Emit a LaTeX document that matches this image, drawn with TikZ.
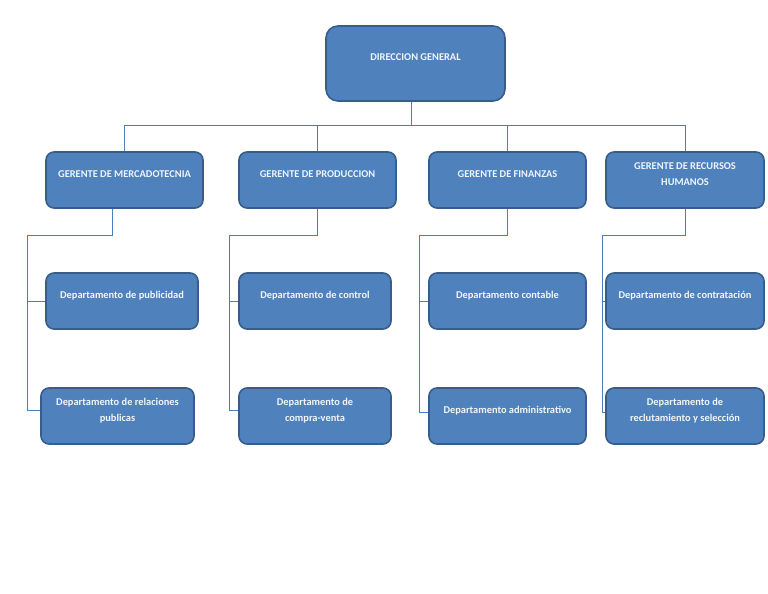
\documentclass[tikz,border=0pt]{standalone}
\usepackage{fontspec}
\setmainfont{Carlito}
\usepackage{tikz}
\usetikzlibrary{positioning,calc}
\definecolor{orgfill}{HTML}{4F81BD}
\definecolor{orgedge}{HTML}{385D8A}
\definecolor{orgline}{HTML}{4A7EBB}

\begin{document}
\begin{tikzpicture}[x=1pt, y=-1pt,
    orgbox/.style={rectangle, draw=orgedge, line width=1.6pt, fill=orgfill, rounded corners=8pt,
                 minimum height=56pt, align=center, text=white!92!orgfill, text depth=12pt,
                 font=\fontsize{10.4}{16}\selectfont\bfseries, inner sep=2pt},
    topbox/.style={orgbox, minimum width=179pt, minimum height=75pt, rounded corners=12pt},
    orgline/.style={draw=orgline, line width=0.8pt}
]
\useasboundingbox (0,0) rectangle (768,594);

\node[topbox] (dg) at (415.5,63.5) {DIRECCION GENERAL};

\node[orgbox, minimum width=157pt] (mkt) at (124.5,180) {GERENTE DE MERCADOTECNIA};
\node[orgbox, minimum width=157pt] (prod) at (317.5,180) {GERENTE DE PRODUCCION};
\node[orgbox, minimum width=157pt] (fin) at (507.5,180) {GERENTE DE FINANZAS};
\node[orgbox, minimum width=158pt] (rh) at (685,180) {GERENTE DE RECURSOS\\HUMANOS};

\node[orgbox, minimum width=152pt] (publ) at (122,301) {Departamento de publicidad};
\node[orgbox, minimum width=153pt] (relp) at (117.5,416) {Departamento de relaciones\\publicas};
\node[orgbox, minimum width=152pt] (ctrl) at (315,301) {Departamento de control};
\node[orgbox, minimum width=152pt] (cmpv) at (315,416) {Departamento de\\compra-venta};
\node[orgbox, minimum width=157pt] (cont) at (507.5,301) {Departamento contable};
\node[orgbox, minimum width=157pt] (admi) at (507.5,416) {Departamento administrativo};
\node[orgbox, minimum width=158pt] (contr) at (685,301) {Departamento de contratación};
\node[orgbox, minimum width=158pt] (recl) at (685,416) {Departamento de\\reclutamiento y selección};

\coordinate (bus) at (411,125);
\coordinate (sp1) at (27,235);
\coordinate (sp2) at (229,235);
\coordinate (sp3) at (419,235);
\coordinate (sp4) at (602,235);

\draw[orgline] (dg.south -| bus) -- (bus);
\draw[orgline] (bus) -| (mkt.north);
\draw[orgline] (bus) -| (prod.north);
\draw[orgline] (bus) -| (fin.north);
\draw[orgline] (bus) -| (rh.north);

\draw[orgline] ([xshift=-12pt]mkt.south) |- (sp1) |- (publ.west);
\draw[orgline] (sp1) |- ([yshift=6pt]relp.west);
\draw[orgline] (prod.south) |- (sp2) |- (ctrl.west);
\draw[orgline] (sp2) |- ([yshift=6pt]cmpv.west);
\draw[orgline] (fin.south) |- (sp3) |- (cont.west);
\draw[orgline] (sp3) |- ([yshift=4pt]admi.west);
\draw[orgline] (rh.south) |- (sp4) |- (contr.west);
\draw[orgline] (sp4) |- ([yshift=4pt]recl.west);
\end{tikzpicture}
\end{document}
